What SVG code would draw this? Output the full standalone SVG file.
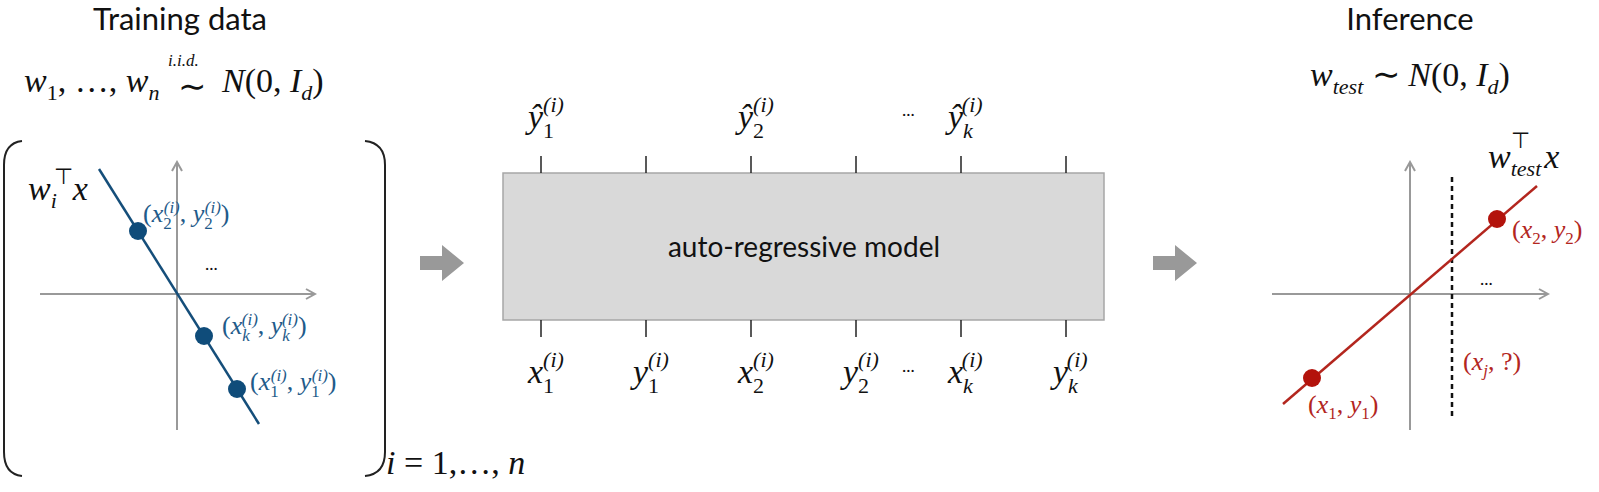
<svg xmlns="http://www.w3.org/2000/svg" width="1599" height="492" viewBox="0 0 1599 492">
<style>
.t{font-family:Lato,"Open Sans",sans-serif;font-size:31px;fill:#111}
.m{font-family:"Liberation Serif",serif;font-size:34px;fill:#111}
.i{font-style:italic}
.s{font-size:22px}
.b{fill:#1f5b8a;font-family:"Liberation Serif",serif;font-size:26px}
.r{fill:#b3261e;font-family:"Liberation Serif",serif;font-size:26px}
.ax{stroke:#999;stroke-width:2;fill:none}
.tk{stroke:#222;stroke-width:1.5}
</style>
<defs>
<marker id="ah" markerWidth="12" markerHeight="12" refX="10" refY="6" orient="auto" markerUnits="userSpaceOnUse"><path d="M1,1 L10,6 L1,11" fill="none" stroke="#999" stroke-width="2"/></marker>
</defs>
<g id="training">
<text class="t" x="180" y="30" text-anchor="middle">Training data</text>
<text class="m" x="24" y="92"><tspan class="i">w</tspan><tspan class="s" dy="8">1</tspan><tspan dy="-8">, …, </tspan><tspan class="i">w</tspan><tspan class="s i" dy="8">n</tspan></text>
<text class="m i" x="168" y="66" style="font-size:17px">i.i.d.</text>
<text class="m" x="178" y="98">∼</text>
<text class="m" x="222" y="92"><tspan class="i">N</tspan>(0, <tspan class="i">I</tspan><tspan class="s i" dy="8">d</tspan><tspan dy="-8">)</tspan></text>
<path d="M22,141 Q4,143 4,165 L4,452 Q4,474 22,476" fill="none" stroke="#222" stroke-width="2"/>
<path d="M365,141 Q385,143 385,165 L385,452 Q385,474 365,476" fill="none" stroke="#222" stroke-width="2"/>
<text class="m i" x="386" y="474">i <tspan font-style="normal">= 1,…, </tspan>n</text>
<line class="ax" x1="177" y1="430" x2="177" y2="162" marker-end="url(#ah)"/>
<line class="ax" x1="40" y1="294" x2="315" y2="294" marker-end="url(#ah)"/>
<line x1="99" y1="169" x2="259" y2="424" stroke="#154e7a" stroke-width="2.5"/>
<circle cx="138" cy="231" r="9" fill="#0f4c7a"/>
<circle cx="204" cy="336" r="9" fill="#0f4c7a"/>
<circle cx="237" cy="389" r="9" fill="#0f4c7a"/>
<text class="m i" x="28" y="200">w<tspan class="s" dy="8">i</tspan><tspan font-style="normal" font-family="Lato,sans-serif" font-size="22" dx="-3" dy="-24">⊤</tspan><tspan dy="16">x</tspan></text>
<text class="b" x="143" y="222">(<tspan class="i">x</tspan><tspan font-size="17" dy="7">2</tspan><tspan font-size="17" class="i" dx="-8" dy="-16">(i)</tspan><tspan dy="9">, </tspan><tspan class="i">y</tspan><tspan font-size="17" dy="7">2</tspan><tspan font-size="17" class="i" dx="-8" dy="-16">(i)</tspan><tspan dy="9">)</tspan></text>
<text x="205" y="270" font-family="Lato,sans-serif" font-size="18" fill="#111">...</text>
<text class="b" x="222" y="334">(<tspan class="i">x</tspan><tspan font-size="17" class="i" dy="7">k</tspan><tspan font-size="17" class="i" dx="-8" dy="-16">(i)</tspan><tspan dy="9">, </tspan><tspan class="i">y</tspan><tspan font-size="17" class="i" dy="7">k</tspan><tspan font-size="17" class="i" dx="-8" dy="-16">(i)</tspan><tspan dy="9">)</tspan></text>
<text class="b" x="250" y="390">(<tspan class="i">x</tspan><tspan font-size="17" dy="7">1</tspan><tspan font-size="17" class="i" dx="-8" dy="-16">(i)</tspan><tspan dy="9">, </tspan><tspan class="i">y</tspan><tspan font-size="17" dy="7">1</tspan><tspan font-size="17" class="i" dx="-8" dy="-16">(i)</tspan><tspan dy="9">)</tspan></text>
</g>
<g id="connectors">
<path d="M420,256 L442,256 L442,245 L464,263 L442,281 L442,270 L420,270 Z" fill="#999"/>
<path d="M1153,256 L1175,256 L1175,245 L1197,263 L1175,281 L1175,270 L1153,270 Z" fill="#999"/>
</g>
<g id="model">
<rect x="503" y="173" width="601" height="147" fill="#d9d9d9" stroke="#a6a6a6" stroke-width="1.5"/>
<text class="t" x="804" y="257" text-anchor="middle" style="font-size:28px">auto-regressive model</text>
<g class="tk">
<line x1="541" y1="156" x2="541" y2="173"/><line x1="646" y1="156" x2="646" y2="173"/><line x1="751" y1="156" x2="751" y2="173"/><line x1="856" y1="156" x2="856" y2="173"/><line x1="961" y1="156" x2="961" y2="173"/><line x1="1066" y1="156" x2="1066" y2="173"/>
<line x1="541" y1="320" x2="541" y2="337"/><line x1="646" y1="320" x2="646" y2="337"/><line x1="751" y1="320" x2="751" y2="337"/><line x1="856" y1="320" x2="856" y2="337"/><line x1="961" y1="320" x2="961" y2="337"/><line x1="1066" y1="320" x2="1066" y2="337"/>
</g>
<g class="m i">
<text x="528" y="128">ŷ<tspan class="s" font-style="normal" dy="10">1</tspan><tspan class="s" dx="-11" dy="-26">(i)</tspan></text>
<text x="738" y="128">ŷ<tspan class="s" font-style="normal" dy="10">2</tspan><tspan class="s" dx="-11" dy="-26">(i)</tspan></text>
<text x="948" y="128">ŷ<tspan class="s" dy="10">k</tspan><tspan class="s" dx="-11" dy="-26">(i)</tspan></text>
<text x="528" y="383">x<tspan class="s" font-style="normal" dy="10">1</tspan><tspan class="s" dx="-11" dy="-26">(i)</tspan></text>
<text x="633" y="383">y<tspan class="s" font-style="normal" dy="10">1</tspan><tspan class="s" dx="-11" dy="-26">(i)</tspan></text>
<text x="738" y="383">x<tspan class="s" font-style="normal" dy="10">2</tspan><tspan class="s" dx="-11" dy="-26">(i)</tspan></text>
<text x="843" y="383">y<tspan class="s" font-style="normal" dy="10">2</tspan><tspan class="s" dx="-11" dy="-26">(i)</tspan></text>
<text x="948" y="383">x<tspan class="s" dy="10">k</tspan><tspan class="s" dx="-11" dy="-26">(i)</tspan></text>
<text x="1053" y="383">y<tspan class="s" dy="10">k</tspan><tspan class="s" dx="-11" dy="-26">(i)</tspan></text>
</g>
<text x="902" y="116" font-family="Lato,sans-serif" font-size="18" fill="#111">...</text>
<text x="902" y="372" font-family="Lato,sans-serif" font-size="18" fill="#111">...</text>
</g>
<g id="inference">
<text class="t" x="1410" y="30" text-anchor="middle">Inference</text>
<text class="m" x="1310" y="86"><tspan class="i">w</tspan><tspan class="s i" dy="8">test</tspan><tspan dy="-8"> ∼ </tspan><tspan class="i">N</tspan>(0, <tspan class="i">I</tspan><tspan class="s i" dy="8">d</tspan><tspan dy="-8">)</tspan></text>
<line class="ax" x1="1410" y1="430" x2="1410" y2="162" marker-end="url(#ah)"/>
<line class="ax" x1="1272" y1="294" x2="1548" y2="294" marker-end="url(#ah)"/>
<line x1="1452" y1="177" x2="1452" y2="416" stroke="#111" stroke-width="2.5" stroke-dasharray="5,4"/>
<line x1="1283" y1="404" x2="1537" y2="186" stroke="#b3261e" stroke-width="2.5"/>
<circle cx="1312" cy="378" r="9" fill="#b3130c"/>
<circle cx="1497" cy="219" r="9" fill="#b3130c"/>
<text class="m i" x="1488" y="168">w<tspan class="s" dy="8">test</tspan><tspan font-style="normal" font-family="Lato,sans-serif" font-size="22" dx="-30" dy="-28">⊤</tspan><tspan dx="14" dy="20">x</tspan></text>
<text class="r" x="1512" y="238">(<tspan class="i">x</tspan><tspan font-size="17" dy="6">2</tspan><tspan dy="-6">, </tspan><tspan class="i">y</tspan><tspan font-size="17" dy="6">2</tspan><tspan dy="-6">)</tspan></text>
<text x="1480" y="285" font-family="Lato,sans-serif" font-size="18" fill="#111">...</text>
<text class="r" x="1463" y="370">(<tspan class="i">x</tspan><tspan font-size="17" class="i" dy="6">j</tspan><tspan dy="-6">, ?)</tspan></text>
<text class="r" x="1308" y="413">(<tspan class="i">x</tspan><tspan font-size="17" dy="6">1</tspan><tspan dy="-6">, </tspan><tspan class="i">y</tspan><tspan font-size="17" dy="6">1</tspan><tspan dy="-6">)</tspan></text>
</g>
</svg>
